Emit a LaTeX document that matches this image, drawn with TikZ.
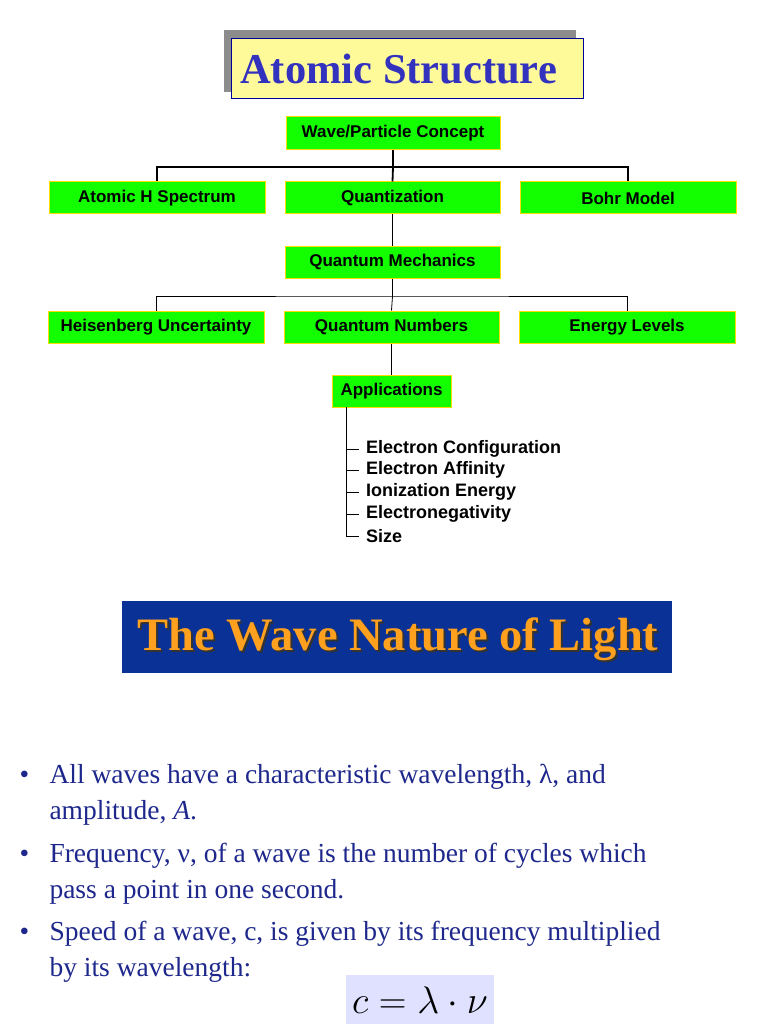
\documentclass[tikz,border=0pt]{standalone}
\usepackage{fontspec}
\setmainfont{Liberation Serif}
\setsansfont{Liberation Sans}
\definecolor{navytext}{RGB}{30,40,140}
\definecolor{titleblue}{RGB}{50,50,190}
\definecolor{bannerblue}{RGB}{10,50,150}
\definecolor{bannerorange}{RGB}{255,160,30}
\begin{document}
\begin{tikzpicture}[x=1pt,y=-1pt,
  box/.style={draw=yellow!80!orange,line width=1pt,fill=green!90!lime,font=\sffamily\bfseries\fontsize{17}{20}\selectfont,inner sep=0pt},
  conn/.style={line width=1.8pt},
  thin/.style={line width=0.8pt},
  bul/.style={anchor=west,font=\fontsize{27.5}{32}\selectfont,text=navytext}]
\useasboundingbox (0,0) rectangle (768,1024);
\fill[white] (0,0) rectangle (768,1024);
% title
\fill[gray!90] (224,30) rectangle (576,92);
\draw[fill=yellow!40,draw=blue!60!black] (231,38) rectangle (583,98);
\node[font=\bfseries\fontsize{42.5}{46}\selectfont,text=titleblue,anchor=west,inner sep=0pt] (title) at (240,69) {Atomic Structure};
% boxes
\node[box,minimum width=214,minimum height=33] (wp) at (393,133.5) {Wave/Particle Concept};
\node[box,minimum width=216,minimum height=32] (ah) at (157,198) {Atomic H Spectrum};
\node[box,minimum width=215,minimum height=32] (qz) at (392.5,198) {Quantization};
\node[box,minimum width=216,minimum height=32] (bm) at (628,198) {Bohr Model};
\node[box,minimum width=215,minimum height=32] (qm) at (392.5,262) {Quantum Mechanics};
\node[box,minimum width=216,minimum height=32] (hu) at (156,327) {Heisenberg Uncertainty};
\node[box,minimum width=215,minimum height=32] (qn) at (391.5,327) {Quantum Numbers};
\node[box,minimum width=216,minimum height=32] (el) at (627,327) {Energy Levels};
\node[box,minimum width=119,minimum height=32] (ap) at (391.5,391) {Applications};
% connectors
\coordinate (j1) at (393,167);
\draw[conn] (wp.south) -- (j1);
\draw[conn] (ah.north) |- (j1) -| (bm.north);
\draw[conn] (j1) -- (qz.north);
\draw[conn] (qz.south) -- (qm.north);
\coordinate (j2) at (392.5,296);
\draw[thin] (qm.south) -- (j2);
\draw[thin] (hu.north) |- (j2) -| (el.north);
\draw[thin] (j2) -- (qn.north);
\draw[thin] (qn.south) -- (ap.north);
\coordinate (a0) at (346,407);
\coordinate (a5) at (346,536);
\draw[thin] (a0) -- (a5) -- (359,536);
\foreach \y/\t/\n in {449/Electron Configuration/i1,470/Electron Affinity/i2,492/Ionization Energy/i3,514/Electronegativity/i4,536/Size/i5}{
  \node[anchor=west,font=\sffamily\bfseries\fontsize{18}{20}\selectfont,inner sep=0pt] (\n) at (366,\y) {\t};
  \draw[thin] (346,\y) -- ([xshift=-7pt]\n.west);
}
% wave nature
\fill[bannerblue] (122,601) rectangle (672,673);
\node[font=\bfseries\fontsize{46.5}{50}\selectfont,text=black!80] at (400,641) {The Wave Nature of Light};
\node[font=\bfseries\fontsize{46.5}{50}\selectfont,text=bannerorange] (wn) at (398,639) {The Wave Nature of Light};
% bullets
\foreach \y in {777,856,934}{\node[bul] at (16,\y) {•};}
\node[bul] (b1) at (46,777) {All waves have a characteristic wavelength, λ, and};
\node[bul] (b1b) at (46,813) {amplitude, \textit{A}.};
\node[bul] (b2) at (46,856) {Frequency, ν, of a wave is the number of cycles which};
\node[bul] (b2b) at (46,892) {pass a point in one second.};
\node[bul] (b3) at (46,934) {Speed of a wave, c, is given by its frequency multiplied};
\node[bul] (b3b) at (46,970) {by its wavelength:};
\fill[blue!12] (346,975) rectangle (494,1024);
\node[scale=1.85,font=\fontsize{20}{24}\selectfont,inner sep=0pt] (eq) at (420,1000) {$c=\lambda\cdot\nu$};
\end{tikzpicture}
\end{document}
